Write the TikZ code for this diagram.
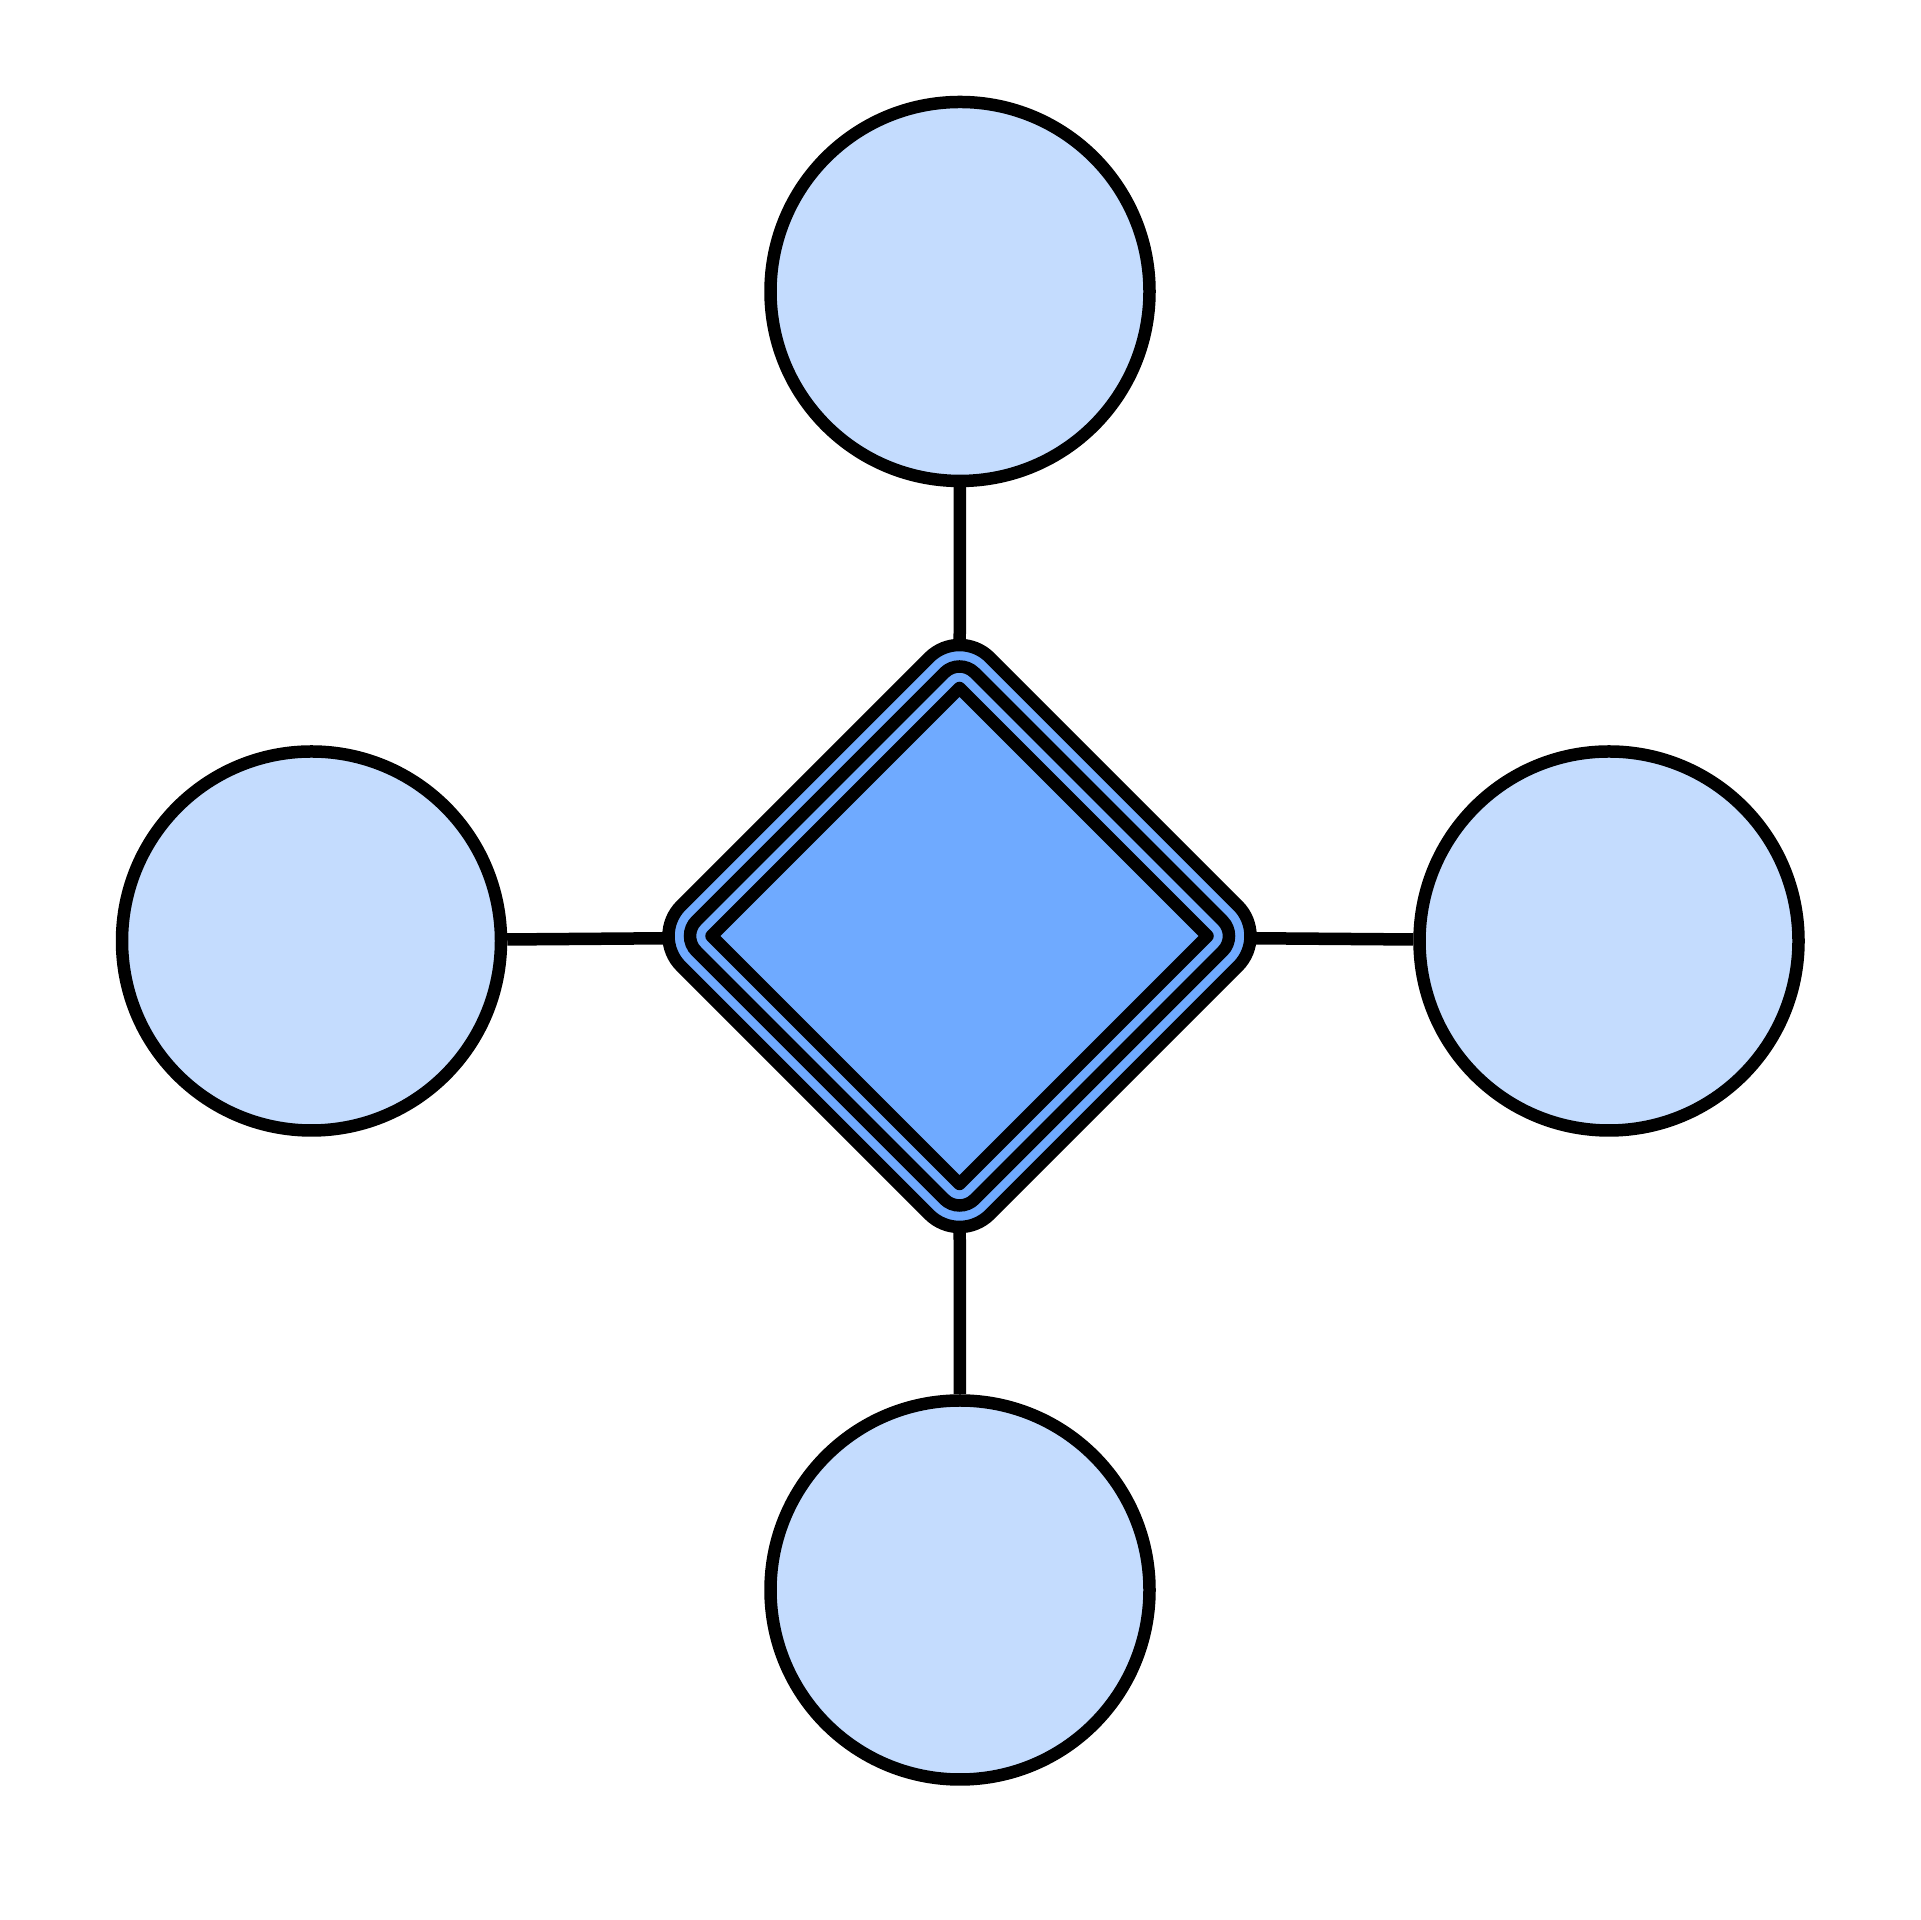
\documentclass[tikz,border=0pt]{standalone}
\usetikzlibrary{calc}
\definecolor{cfill}{RGB}{196,220,254}
\definecolor{dfill}{RGB}{111,170,255}
\tikzset{
  lw/.style={line width=0.125cm},
  leaf/.style={circle, draw=black, lw, fill=cfill, minimum size=3.79cm, inner sep=0pt},
  conn/.style={draw=black, lw},
  dlayer/.style={draw=black, lw}
}
\begin{document}
\begin{tikzpicture}
\fill[white] (0,0) rectangle (19.2,19.2);
\useasboundingbox (0,0) rectangle (19.2,19.2);
\coordinate (dia) at (9.595,9.84);
\node[leaf] (top) at (9.60,16.285) {};
\node[leaf] (bot) at (9.60,3.30) {};
\node[leaf] (lft) at (3.115,9.79) {};
\node[leaf] (rgt) at (16.09,9.79) {};
\draw[conn] (top) -- (dia);
\draw[conn] (bot) -- (dia);
\draw[conn] (lft) -- (dia);
\draw[conn] (rgt) -- (dia);
\draw[dlayer, fill=dfill, rounded corners=0.43cm, shift={(dia)}]
  (1.544,1.544) -- (3.088,0) -- (0,-3.088) -- (-3.088,0) -- (0,3.088) -- cycle;
\draw[dlayer, rounded corners=0.215cm, shift={(dia)}]
  (1.392,1.392) -- (2.784,0) -- (0,-2.784) -- (-2.784,0) -- (0,2.784) -- cycle;
\draw[dlayer, line join=round, shift={(dia)}]
  (1.24,1.24) -- (2.48,0) -- (0,-2.48) -- (-2.48,0) -- (0,2.48) -- cycle;
\end{tikzpicture}
\end{document}
